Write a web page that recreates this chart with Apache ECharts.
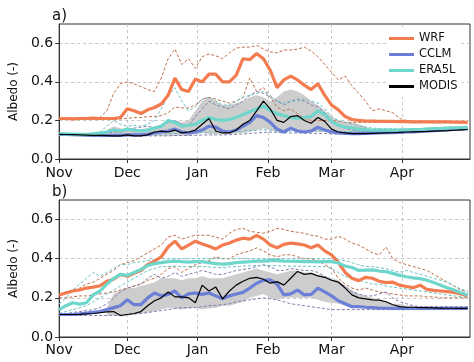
<!DOCTYPE html>
<html><head><meta charset="utf-8">
<script src="https://cdn.jsdelivr.net/npm/echarts@6/dist/echarts.min.js"></script>
<style>html,body{margin:0;padding:0;background:#fff}#c{width:474px;height:362px}</style>
</head><body><div id="c"></div>
<script>
// sampling days (days since 1 Nov)
const days = [0,3,6,9,12,15,18,21,24,27,30,33,36,39,42,45,48,51,54,57,60,63,66,69,72,75,78,81,84,87,90,93,96,99,102,105,108,111,114,117,120,123,126,129,132,135,138,141,144,147,150,153,156,159,162,165,168,171,174,177,180];
const monthStarts = [0,30,61,92,120,151];
const monthNames = ['Nov','Dec','Jan','Feb','Mar','Apr'];
const yTicks = [0,0.2,0.4,0.6];
const N = null;

// ---- panel a ----
const wrfA = [0.21,0.21,0.208,0.21,0.21,0.212,0.21,0.21,0.21,0.215,
 0.26,0.25,0.236,0.255,0.267,0.285,0.33,0.42,0.36,0.35,
 0.415,0.40,0.44,0.44,0.40,0.40,0.435,0.52,0.515,0.547,
 0.52,0.46,0.37,0.41,0.43,0.41,0.383,0.36,0.39,0.33,
 0.28,0.255,0.22,0.205,0.2,0.197,0.196,0.195,0.195,0.195,
 0.194,0.194,0.193,0.193,0.193,0.192,0.192,0.192,0.191,0.191,0.19];
const wrfMaxA = [0.212,0.212,0.212,0.212,0.212,0.212,0.216,0.25,0.34,0.39,
 0.40,0.39,0.375,0.36,0.35,0.42,0.52,0.57,0.49,0.52,
 0.47,0.53,0.545,0.535,0.52,0.55,0.575,0.58,0.58,0.59,
 0.57,0.555,0.55,0.565,0.565,0.57,0.58,0.56,0.53,0.49,
 0.45,0.41,0.43,0.38,0.34,0.30,0.25,0.26,0.25,0.24,
 0.21,0.2,0.196,0.195,0.195,0.194,0.194,0.193,0.193,0.192,0.192];
const wrfMinA = [0.205,0.205,0.205,0.205,0.205,0.205,0.205,0.205,0.205,0.207,
 0.21,0.215,0.215,0.22,0.22,0.225,0.24,0.27,0.265,0.265,
 0.28,0.31,0.32,0.31,0.30,0.29,0.30,0.32,0.42,0.35,
 0.37,0.32,0.27,0.25,0.26,0.235,0.21,0.2,0.2,0.2,
 0.2,0.195,0.19,0.19,0.19,0.19,0.19,0.19,0.19,0.19,
 0.19,0.19,0.189,0.189,0.189,0.188,0.188,0.188,0.188,0.188,0.188];
const cclmA = [0.128,0.127,0.126,0.125,0.124,0.123,0.122,0.122,0.122,0.123,
 0.125,0.125,0.126,0.128,0.135,0.14,0.145,0.155,0.14,0.135,
 0.14,0.15,0.17,0.165,0.145,0.14,0.15,0.17,0.19,0.225,
 0.215,0.19,0.155,0.14,0.16,0.145,0.14,0.145,0.165,0.15,
 0.14,0.135,0.133,0.132,0.132,0.133,0.134,0.135,0.136,0.137,
 0.138,0.14,0.141,0.143,0.145,0.147,0.149,0.151,0.153,0.155,0.157];
const cclmMaxA = [0.13,0.13,0.13,0.13,0.13,0.13,0.132,0.135,0.14,0.14,
 0.15,0.16,0.165,0.17,0.16,0.17,0.19,0.2,0.18,0.17,
 0.22,0.26,0.3,0.28,0.27,0.26,0.28,0.3,0.33,0.35,
 0.34,0.32,0.3,0.28,0.3,0.31,0.3,0.28,0.27,0.24,
 0.2,0.17,0.16,0.15,0.145,0.142,0.142,0.143,0.144,0.145,
 0.146,0.147,0.148,0.15,0.151,0.153,0.155,0.157,0.158,0.16,0.162];
const cclmMinA = [0.125,0.124,0.123,0.122,0.121,0.12,0.12,0.12,0.12,0.12,
 0.12,0.12,0.12,0.12,0.12,0.12,0.12,0.122,0.122,0.122,
 0.123,0.124,0.125,0.125,0.125,0.126,0.128,0.13,0.132,0.135,
 0.138,0.14,0.138,0.136,0.135,0.135,0.134,0.133,0.133,0.132,
 0.13,0.13,0.13,0.13,0.13,0.13,0.131,0.132,0.133,0.134,
 0.135,0.137,0.138,0.14,0.142,0.144,0.146,0.148,0.15,0.152,0.154];
const era5A = [0.13,0.13,0.129,0.128,0.128,0.13,0.135,0.14,0.15,0.145,
 0.155,0.15,0.145,0.15,0.16,0.17,0.2,0.19,0.17,0.175,
 0.18,0.2,0.215,0.205,0.2,0.205,0.215,0.23,0.245,0.26,
 0.275,0.25,0.235,0.225,0.215,0.21,0.215,0.22,0.25,0.23,
 0.195,0.175,0.165,0.16,0.155,0.152,0.15,0.15,0.15,0.15,
 0.15,0.151,0.152,0.153,0.155,0.157,0.158,0.16,0.161,0.162,0.163];
const era5MaxA = [0.132,0.132,0.132,0.132,0.132,0.134,0.14,0.17,0.2,0.18,
 0.17,0.175,0.17,0.18,0.2,0.26,0.33,0.37,0.3,0.25,
 0.27,0.31,0.32,0.3,0.28,0.28,0.3,0.32,0.33,0.34,
 0.35,0.33,0.3,0.29,0.3,0.3,0.31,0.3,0.29,0.26,
 0.22,0.2,0.19,0.18,0.17,0.165,0.16,0.158,0.157,0.156,
 0.155,0.156,0.157,0.158,0.16,0.162,0.163,0.165,0.166,0.168,0.17];
const era5MinA = [0.126,0.126,0.125,0.125,0.124,0.124,0.124,0.125,0.126,0.126,
 0.127,0.127,0.127,0.128,0.13,0.13,0.132,0.133,0.133,0.134,
 0.135,0.137,0.14,0.14,0.14,0.14,0.142,0.145,0.148,0.15,
 0.152,0.15,0.148,0.146,0.145,0.145,0.146,0.146,0.147,0.146,
 0.145,0.143,0.142,0.141,0.141,0.141,0.141,0.142,0.142,0.143,
 0.144,0.145,0.146,0.147,0.148,0.15,0.151,0.152,0.153,0.154,0.155];
const modisA = [0.128,0.127,0.126,0.125,0.124,0.123,0.122,0.121,0.12,0.12,
 0.125,0.12,0.12,0.125,0.14,0.145,0.14,0.15,0.135,0.14,
 0.15,0.18,0.21,0.145,0.135,0.135,0.15,0.18,0.2,0.25,
 0.3,0.26,0.2,0.19,0.22,0.225,0.2,0.185,0.215,0.195,
 0.155,0.14,0.135,0.132,0.132,0.132,0.133,0.134,0.135,0.136,
 0.138,0.14,0.141,0.142,0.143,0.145,0.146,0.147,0.149,0.151,0.153];
const modisLoA = [N,N,N,N,N,N,N,0.12,0.12,0.12,
 0.12,0.118,0.118,0.12,0.12,0.12,0.12,0.12,0.12,0.12,
 0.13,0.135,0.13,0.128,0.128,0.13,0.132,0.135,0.14,0.15,
 0.16,0.15,0.14,0.14,0.15,0.14,0.14,0.14,0.14,0.14,
 0.135,0.13,0.13,0.13,0.13,0.13,0.13,N,N,N,
 N,N,N,N,N,N,N,N,N,N,N];
const modisHiA = [N,N,N,N,N,N,N,0.15,0.17,0.16,
 0.15,0.15,0.155,0.16,0.17,0.18,0.19,0.2,0.19,0.2,
 0.25,0.3,0.32,0.3,0.28,0.28,0.29,0.3,0.32,0.33,
 0.32,0.3,0.32,0.35,0.36,0.35,0.33,0.3,0.28,0.25,
 0.22,0.2,0.19,0.19,0.18,0.17,0.15,N,N,N,
 N,N,N,N,N,N,N,N,N,N,N];

// ---- panel b ----
const wrfB = [0.215,0.225,0.235,0.24,0.25,0.255,0.262,0.285,0.295,0.32,
 0.31,0.325,0.34,0.37,0.388,0.41,0.46,0.49,0.45,0.47,
 0.49,0.475,0.464,0.45,0.47,0.48,0.495,0.505,0.5,0.519,
 0.5,0.47,0.456,0.473,0.48,0.476,0.47,0.456,0.47,0.44,
 0.42,0.38,0.33,0.3,0.288,0.305,0.3,0.285,0.278,0.28,
 0.265,0.258,0.252,0.265,0.243,0.238,0.235,0.232,0.228,0.22,0.21];
const wrfMaxB = [0.22,0.23,0.24,0.25,0.27,0.28,0.3,0.32,0.34,0.37,
 0.38,0.39,0.41,0.43,0.45,0.47,0.51,0.52,0.5,0.51,
 0.52,0.52,0.52,0.51,0.5,0.53,0.55,0.555,0.54,0.535,
 0.53,0.54,0.555,0.55,0.54,0.535,0.53,0.52,0.515,0.5,
 0.5,0.515,0.5,0.48,0.47,0.45,0.43,0.42,0.46,0.4,
 0.38,0.37,0.36,0.35,0.34,0.32,0.3,0.28,0.26,0.24,0.23];
const wrfMinB = [0.2,0.2,0.205,0.21,0.21,0.215,0.22,0.225,0.23,0.24,
 0.25,0.26,0.27,0.29,0.3,0.32,0.35,0.36,0.33,0.35,
 0.37,0.38,0.39,0.41,0.4,0.4,0.42,0.43,0.44,0.455,
 0.44,0.42,0.41,0.42,0.42,0.41,0.4,0.4,0.39,0.37,
 0.35,0.3,0.27,0.25,0.24,0.25,0.24,0.23,0.225,0.22,
 0.215,0.21,0.21,0.21,0.205,0.205,0.2,0.2,0.2,0.2,0.2];
const cclmB = [0.115,0.115,0.115,0.118,0.122,0.126,0.13,0.14,0.15,0.16,
 0.19,0.165,0.165,0.2,0.225,0.21,0.218,0.235,0.2,0.22,
 0.225,0.218,0.225,0.21,0.195,0.21,0.22,0.228,0.25,0.275,
 0.29,0.292,0.27,0.215,0.22,0.24,0.215,0.218,0.25,0.23,
 0.21,0.185,0.17,0.155,0.155,0.152,0.15,0.148,0.147,0.146,
 0.146,0.146,0.146,0.146,0.146,0.146,0.146,0.146,0.146,0.146,0.146];
const cclmMaxB = [0.12,0.12,0.125,0.13,0.135,0.14,0.15,0.17,0.2,0.23,
 0.25,0.26,0.27,0.3,0.32,0.3,0.31,0.33,0.31,0.32,
 0.33,0.34,0.33,0.32,0.32,0.33,0.34,0.345,0.35,0.36,
 0.37,0.36,0.34,0.34,0.35,0.345,0.34,0.34,0.33,0.31,
 0.29,0.28,0.26,0.23,0.22,0.21,0.21,0.22,0.23,0.2,
 0.18,0.17,0.16,0.155,0.155,0.155,0.155,0.155,0.155,0.155,0.155];
const cclmMinB = [0.11,0.11,0.11,0.11,0.11,0.11,0.11,0.11,0.11,0.112,
 0.115,0.117,0.12,0.125,0.13,0.135,0.14,0.145,0.15,0.15,
 0.15,0.155,0.16,0.162,0.165,0.17,0.18,0.185,0.19,0.195,
 0.2,0.195,0.19,0.18,0.17,0.165,0.16,0.155,0.15,0.145,
 0.14,0.14,0.14,0.14,0.14,0.14,0.14,0.14,0.14,0.14,
 0.14,0.14,0.14,0.14,0.14,0.14,0.14,0.14,0.14,0.14,0.14];
const era5B = [0.14,0.16,0.175,0.168,0.175,0.215,0.235,0.27,0.3,0.32,
 0.315,0.33,0.345,0.365,0.375,0.38,0.385,0.388,0.385,0.383,
 0.385,0.385,0.38,0.375,0.372,0.375,0.38,0.383,0.385,0.388,
 0.388,0.39,0.39,0.388,0.387,0.386,0.385,0.385,0.384,0.385,
 0.385,0.378,0.362,0.355,0.34,0.342,0.343,0.337,0.334,0.325,
 0.315,0.308,0.302,0.298,0.29,0.278,0.265,0.252,0.24,0.226,0.215];
const era5MaxB = [0.17,0.2,0.24,0.27,0.3,0.33,0.31,0.33,0.35,0.37,
 0.37,0.38,0.385,0.39,0.395,0.4,0.4,0.4,0.4,0.4,
 0.4,0.4,0.4,0.4,0.4,0.4,0.4,0.4,0.4,0.4,
 0.4,0.4,0.4,0.4,0.4,0.4,0.4,0.4,0.4,0.4,
 0.4,0.395,0.39,0.38,0.37,0.36,0.36,0.355,0.35,0.34,
 0.33,0.34,0.33,0.32,0.31,0.3,0.29,0.28,0.26,0.245,0.235];
const era5MinB = [0.12,0.13,0.14,0.15,0.16,0.18,0.2,0.22,0.24,0.26,
 0.28,0.3,0.32,0.34,0.35,0.36,0.36,0.362,0.36,0.36,
 0.362,0.36,0.358,0.355,0.355,0.358,0.36,0.362,0.364,0.365,
 0.365,0.365,0.364,0.363,0.362,0.362,0.362,0.361,0.36,0.36,
 0.35,0.33,0.31,0.3,0.29,0.28,0.27,0.27,0.26,0.255,
 0.25,0.245,0.24,0.235,0.23,0.225,0.22,0.215,0.21,0.205,0.2];
const modisB = [0.115,0.115,0.115,0.116,0.118,0.12,0.124,0.128,0.13,0.11,
 0.115,0.12,0.13,0.16,0.185,0.2,0.23,0.205,0.205,0.2,
 0.175,0.265,0.235,0.255,0.195,0.235,0.265,0.285,0.3,0.305,
 0.295,0.275,0.283,0.265,0.3,0.335,0.32,0.325,0.312,0.305,
 0.29,0.28,0.25,0.215,0.2,0.195,0.19,0.188,0.18,0.165,
 0.155,0.152,0.152,0.15,0.15,0.149,0.148,0.147,0.147,0.146,0.146];
const modisLoB = [N,N,N,N,N,N,N,0.11,0.11,0.105,
 0.11,0.115,0.12,0.125,0.13,0.14,0.15,0.145,0.14,0.145,
 0.15,0.14,0.145,0.15,0.16,0.16,0.17,0.18,0.2,0.21,
 0.22,0.2,0.19,0.2,0.2,0.2,0.2,0.2,0.19,0.18,
 0.175,0.17,0.16,0.155,0.15,0.15,0.148,0.145,0.145,0.145,
 0.145,0.145,0.145,N,N,N,N,N,N,N,N];
const modisHiB = [N,N,N,N,N,N,N,0.15,0.22,0.24,
 0.25,0.25,0.26,0.27,0.28,0.3,0.3,0.3,0.29,0.3,
 0.3,0.31,0.3,0.3,0.3,0.31,0.32,0.33,0.34,0.35,
 0.34,0.33,0.32,0.33,0.34,0.34,0.33,0.33,0.32,0.31,
 0.3,0.29,0.26,0.24,0.22,0.21,0.2,0.19,0.18,0.17,
 0.17,0.16,0.155,N,N,N,N,N,N,N,N];

const C = {wrf:'#f27b50', cclm:'#6b7fd7', era5:'#6fd6cb', modis:'#000000',
  wrfD:'#bf6e48', cclmD:'#7f7cb0', era5D:'#6cc2c4', band:'#cdcdcd'};
const FONT = 'DejaVu Sans';

function pairs(v){ return days.map((d,i)=>[d, v[i]==null?'-':v[i]]); }
function lineS(name, vals, color, width, dashed, g, z){
  return {type:'line', name:name, xAxisIndex:g, yAxisIndex:g, data:pairs(vals),
    symbol:'none', showSymbol:false, silent:true, animation:false, z:z,
    lineStyle:{color:color, width:width, type: dashed?[3,2]:'solid'},
    itemStyle:{color:color}};
}
function bandS(lo, hi, g){
  const idx = days.map((d,i)=>i).filter(i=>lo[i]!=null && hi[i]!=null);
  return {type:'custom', name:'MODIS range', xAxisIndex:g, yAxisIndex:g, silent:true, animation:false, z:1,
    data: idx.map(i=>[days[i], lo[i], hi[i]]),
    encode:{x:0, y:[1,2]},
    renderItem:(params, api)=>{
      if(params.dataIndex!==0) return null;
      const top = idx.map(i=>api.coord([days[i], hi[i]]));
      const bot = idx.slice().reverse().map(i=>api.coord([days[i], lo[i]]));
      return {type:'polygon', shape:{points: top.concat(bot)}, style:{fill:C.band, stroke:null}};
    }};
}
function panel(g, d){
  return [
    bandS(d.lo, d.hi, g),
    lineS('wrfmax'+g, d.wrfMax, C.wrfD, 1, true, g, 2),
    lineS('wrfmin'+g, d.wrfMin, C.wrfD, 1, true, g, 2),
    lineS('cclmmax'+g, d.cclmMax, C.cclmD, 1, true, g, 2),
    lineS('cclmmin'+g, d.cclmMin, C.cclmD, 1, true, g, 2),
    lineS('era5max'+g, d.era5Max, C.era5D, 1, true, g, 2),
    lineS('era5min'+g, d.era5Min, C.era5D, 1, true, g, 2),
    lineS('WRF', d.wrf, C.wrf, 3.2, false, g, 3),
    lineS('CCLM', d.cclm, C.cclm, 3.2, false, g, 3),
    lineS('ERA5L', d.era5, C.era5, 3.2, false, g, 3),
    lineS('MODIS', d.modis, C.modis, 1.2, false, g, 4)
  ];
}
const grids = [{left:49, right:4, top:24, height:135}, {left:49, right:4, top:200, height:137}];
const xAxes = grids.map((_,g)=>({type:'value', gridIndex:g, min:0, max:181,
  axisLine:{show:true, onZero:false, lineStyle:{color:'#333', width:1}},
  axisTick:{show:true, customValues:monthStarts, length:4, lineStyle:{color:'#333'}},
  axisLabel:{customValues:monthStarts, formatter:v=>monthNames[monthStarts.indexOf(v)], fontSize:14, color:'#111', margin:g===0?7:6, fontFamily:FONT},
  splitLine:{show:true, lineStyle:{color:'#b8b8b8', type:[3,3], width:0.8}}}));
const yAxes = grids.map((_,g)=>({type:'value', gridIndex:g, min:0, max:0.7, interval:0.2,
  name:'Albedo (-)', nameLocation:'middle', nameGap:33, nameRotate:90,
  nameTextStyle:{fontSize:12, color:'#111', fontFamily:FONT},
  axisLine:{show:true, lineStyle:{color:'#333', width:1}},
  axisTick:{show:true, customValues:yTicks, length:4, lineStyle:{color:'#333'}},
  axisLabel:{customValues:yTicks, formatter:v=>v.toFixed(1), fontSize:14, color:'#111', margin:6, fontFamily:FONT},
  splitLine:{show:true, lineStyle:{color:'#b8b8b8', type:[3,3], width:0.8}}}));

const series = panel(0, {lo:modisLoA, hi:modisHiA, wrf:wrfA, wrfMax:wrfMaxA, wrfMin:wrfMinA,
  cclm:cclmA, cclmMax:cclmMaxA, cclmMin:cclmMinA, era5:era5A, era5Max:era5MaxA, era5Min:era5MinA, modis:modisA})
 .concat(panel(1, {lo:modisLoB, hi:modisHiB, wrf:wrfB, wrfMax:wrfMaxB, wrfMin:wrfMinB,
  cclm:cclmB, cclmMax:cclmMaxB, cclmMin:cclmMinB, era5:era5B, era5Max:era5MaxB, era5Min:era5MinB, modis:modisB}));

const legendNames = ['WRF','CCLM','ERA5L','MODIS'];
const chart = echarts.init(document.getElementById('c'), null, {renderer:'canvas'});
chart.setOption({
  animation:false,
  backgroundColor:'#fff',
  textStyle:{fontFamily:FONT},
  title:[{text:'a)', left:47, top:4, textStyle:{fontSize:15, fontWeight:'normal', color:'#111', fontFamily:FONT}},
         {text:'b)', left:47, top:180, textStyle:{fontSize:15, fontWeight:'normal', color:'#111', fontFamily:FONT}}],
  grid: grids.map(g=>Object.assign({show:true, borderColor:'#333', borderWidth:1, backgroundColor:'transparent'}, g)),
  xAxis:xAxes, yAxis:yAxes,
  legend:{data:legendNames.map(n=>({name:n, icon:'rect'})), orient:'vertical', left:386, top:28,
    itemWidth:25, itemHeight:3, itemGap:3, selectedMode:false, backgroundColor:'#fff', padding:[4,4,4,3],
    textStyle:{fontSize:11.5, lineHeight:13, color:'#111', fontFamily:FONT}},
  series:series
});
</script></body></html>
